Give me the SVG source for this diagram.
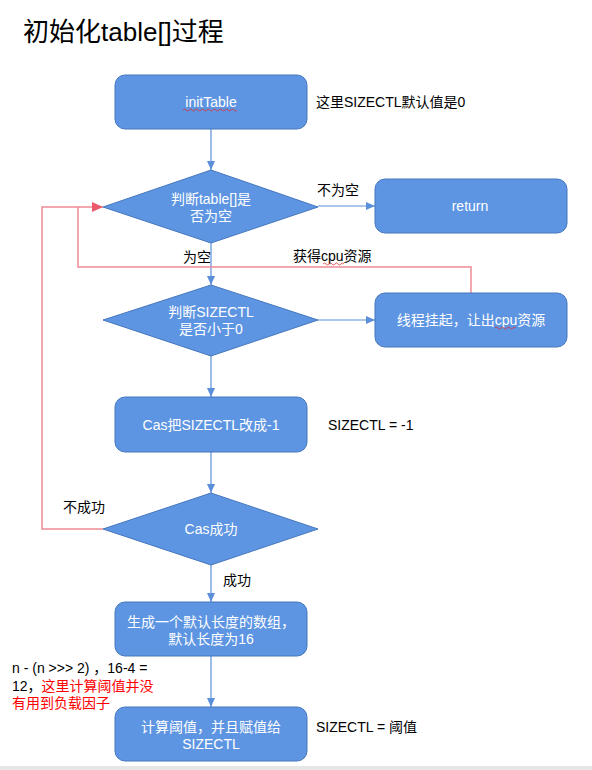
<svg xmlns="http://www.w3.org/2000/svg" width="592" height="770" viewBox="0 0 592 770">
<defs>
<style>
.node{fill:#5d95e2;stroke:#4777bd;stroke-width:1}
.nt{fill:#ffffff;font-family:"Liberation Sans","Noto Sans CJK SC",sans-serif;font-size:14px;text-anchor:middle;dominant-baseline:central}
.lbl{fill:#000000;font-family:"Liberation Sans","Noto Sans CJK SC",sans-serif;font-size:14px;dominant-baseline:central}
.blue{stroke:#5b8fd9;stroke-width:1.2;fill:none}
.red{stroke:#f08a94;stroke-width:1.5;fill:none}
.sq{stroke:#e03030;stroke-width:0.8;fill:none}
</style>
<marker id="ab" markerWidth="10" markerHeight="10" refX="9" refY="5" orient="auto" markerUnits="userSpaceOnUse">
<path d="M0,1 L9,5 L0,9 Z" fill="#5b8fd9"/>
</marker>
<marker id="ar" markerWidth="12" markerHeight="12" refX="11" refY="6" orient="auto" markerUnits="userSpaceOnUse">
<path d="M0,1 L11,6 L0,11 Z" fill="#ea5a68"/>
</marker>
</defs>
<rect x="0" y="0" width="592" height="770" fill="#ffffff"/>
<rect x="0" y="766" width="592" height="4" fill="#e6e6e6"/>
<text x="23" y="41" style="font-family:'Liberation Sans','Noto Sans CJK SC',sans-serif;font-size:26px;fill:#000">初始化table[]过程</text>

<g id="connectors">
<line class="blue" x1="211" y1="129" x2="211" y2="170" marker-end="url(#ab)"/>
<line class="blue" x1="318" y1="206" x2="375" y2="206" marker-end="url(#ab)"/>
<line class="blue" x1="211" y1="243" x2="211" y2="285" marker-end="url(#ab)"/>
<line class="blue" x1="318" y1="320" x2="375" y2="320" marker-end="url(#ab)"/>
<line class="blue" x1="211" y1="356" x2="211" y2="397" marker-end="url(#ab)"/>
<line class="blue" x1="211" y1="452" x2="211" y2="493" marker-end="url(#ab)"/>
<line class="blue" x1="211" y1="565" x2="211" y2="602" marker-end="url(#ab)"/>
<line class="blue" x1="211" y1="656" x2="211" y2="707" marker-end="url(#ab)"/>
<polyline class="red" points="471,293 471,267 78,267 78,207"/>
<polyline class="red" points="103,529 42,529 42,207 103,207" marker-end="url(#ar)"/>
<text class="lbl" x="317" y="190">不为空</text>
<text class="lbl" x="183" y="257">为空</text>
<text class="lbl" x="293" y="256">获得cpu资源</text>
<path class="sq" d="M323,264 q1.5,-2 3,0 t3,0 t3,0 t3,0 t3,0 t3,0 t3,0"/>
<text class="lbl" x="63" y="507">不成功</text>
<text class="lbl" x="223" y="580">成功</text>
</g>

<g id="initTable">
<rect class="node" x="115" y="75" width="192" height="54" rx="10"/>
<text class="nt" x="211" y="102">initTable</text>
<path class="sq" d="M183,110 q1.5,-2 3,0 t3,0 t3,0 t3,0 t3,0 t3,0 t3,0 t3,0 t3,0 t3,0 t3,0 t3,0 t3,0 t3,0 t3,0 t3,0 t3,0 t3,0"/>
<text class="lbl" x="316" y="102">这里SIZECTL默认值是0</text>
</g>

<g id="checkTable">
<polygon class="node" points="211,170 318,207 211,243 103,207"/>
<text class="nt" x="211" y="199">判断table[]是</text>
<text class="nt" x="211" y="216">否为空</text>
</g>

<g id="return">
<rect class="node" x="375" y="179" width="192" height="54" rx="10"/>
<text class="nt" x="470" y="206">return</text>
</g>

<g id="checkSizeCtl">
<polygon class="node" points="211,285 318,320 211,356 103,320"/>
<text class="nt" x="211" y="312">判断SIZECTL</text>
<text class="nt" x="211" y="329">是否小于0</text>
</g>

<g id="yield">
<rect class="node" x="375" y="293" width="192" height="54" rx="10"/>
<text class="nt" x="471" y="320">线程挂起，让出cpu资源</text>
<path class="sq" d="M495,328 q1.5,-2 3,0 t3,0 t3,0 t3,0 t3,0 t3,0 t3,0"/>
</g>

<g id="casSet">
<rect class="node" x="115" y="397" width="192" height="55" rx="10"/>
<text class="nt" x="211" y="425">Cas把SIZECTL改成-1</text>
<text class="lbl" x="328" y="425">SIZECTL = -1</text>
</g>

<g id="casOk">
<polygon class="node" points="211,493 318,529 211,565 103,529"/>
<text class="nt" x="211" y="529">Cas成功</text>
</g>

<g id="newArray">
<rect class="node" x="115" y="602" width="192" height="54" rx="10"/>
<text class="nt" x="211" y="622">生成一个默认长度的数组，</text>
<text class="nt" x="211" y="639">默认长度为16</text>
</g>

<g id="note">
<text class="lbl" x="12" y="668">n - (n &gt;&gt;&gt; 2) ，16-4 =</text>
<text class="lbl" x="12" y="686">12，<tspan fill="#ff0000">这里计算阈值并没</tspan></text>
<text class="lbl" x="12" y="703" style="fill:#ff0000">有用到负载因子</text>
</g>

<g id="threshold">
<rect class="node" x="115" y="707" width="192" height="54" rx="10"/>
<text class="nt" x="211" y="727">计算阈值，并且赋值给</text>
<text class="nt" x="211" y="744">SIZECTL</text>
<text class="lbl" x="316" y="727">SIZECTL = 阈值</text>
</g>
</svg>
